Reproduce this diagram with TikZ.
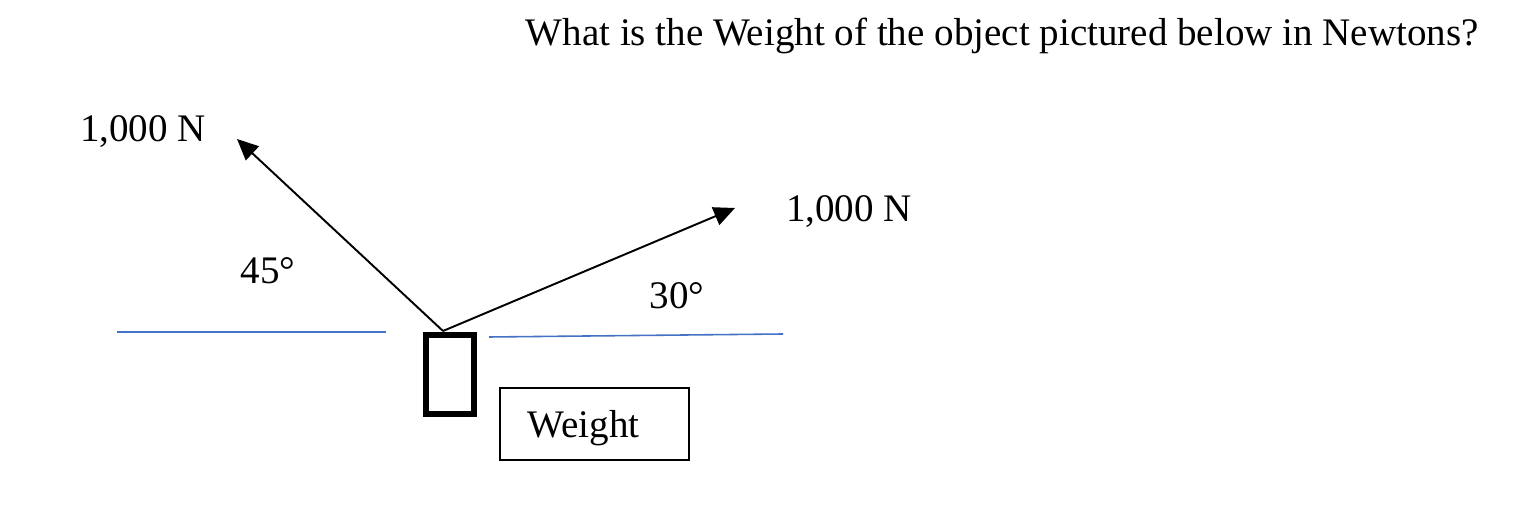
\documentclass[tikz,border=0pt]{standalone}
\usepackage{fontspec}
\setmainfont{Liberation Serif}
\usetikzlibrary{arrows.meta}
\definecolor{refblue}{HTML}{4472C4}
\begin{document}
\begin{tikzpicture}[x=0.01cm,y=-0.01cm,
  lbl/.style={inner sep=0pt,font=\fontsize{11.1}{13}\selectfont},
  force/.style={line width=0.55pt,-{Triangle[length=6pt,width=5.4pt]}},
  ground/.style={refblue,line width=0.45pt},
  body/.style={draw,line width=1.5pt},
  tag/.style={draw,line width=0.5pt,minimum width=189*0.2845pt,minimum height=72*0.2845pt,inner sep=0pt}]
\useasboundingbox (0,0) rectangle (1536,513);
\node[lbl,anchor=west] (title) at (525,36) {What is the Weight of the object pictured below in Newtons?};
\coordinate (O) at (443,331);
\coordinate (tipL) at (237,139);
\coordinate (tipR) at (735,208);
\draw[force] (O) -- (tipL);
\draw[force] (O) -- (tipR);
\node[lbl] (fL) at (143,132) {1,000 N};
\node[lbl] (fR) at (849,212) {1,000 N};
\node[lbl] (a45) at (268,271) {45°};
\node[lbl] (a30) at (677,296) {30°};
\coordinate (gL1) at (117,332);
\coordinate (gL2) at (386,332);
\coordinate (gR1) at (489,337);
\coordinate (gR2) at (783,334);
\draw[ground] (gL1) -- (gL2);
\draw[ground] (gR1) -- (gR2);
\draw[body] (426,335) rectangle (474,414);
\node[tag] (wbox) at (594.5,424) {};
\node[lbl,anchor=west] (wtxt) at (527,428) {Weight};
\end{tikzpicture}
\end{document}
